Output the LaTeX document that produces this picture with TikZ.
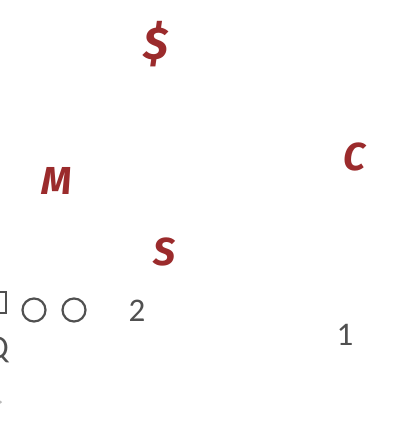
\documentclass[tikz,border=0pt]{standalone}
\usepackage{fontspec}
\newfontfamily\handfont{Fira Sans}
\newfontfamily\grayfont{Carlito}
\definecolor{handred}{HTML}{9B2B2C}
\definecolor{inkgray}{HTML}{505050}
\begin{document}
\begin{tikzpicture}[x=1pt,y=-1pt,
  hand/.style={text=handred,font=\handfont\bfseries\itshape\fontsize{39}{44}\selectfont,inner sep=0pt},
  glabel/.style={text=inkgray,font=\grayfont\fontsize{33}{38}\selectfont,inner sep=0pt},
  gshape/.style={draw=inkgray,line width=2.2pt}]
\useasboundingbox (0,0) rectangle (420,447);
\node[hand,font=\handfont\bfseries\itshape\fontsize{46}{50}\selectfont] (dollar) at (156,44) {\$};
\node[hand] (c) at (355,157) {C};
\node[hand] (m) at (57,181) {M};
\node[hand] (s) at (164,252) {S};
\node[glabel] (two) at (137,311) {2};
\node[glabel] (one) at (345,335) {1};
\node[glabel,anchor=east] (q) at (9,350) {Q};
\draw[gshape] (-10,292) rectangle (6,313);
\node[gshape,circle,minimum size=23pt,inner sep=0pt] (o1) at (34,310) {};
\node[gshape,circle,minimum size=23pt,inner sep=0pt] (o2) at (74,310) {};
\fill[inkgray!40] (0.5,402) circle (1.5);
\end{tikzpicture}
\end{document}
